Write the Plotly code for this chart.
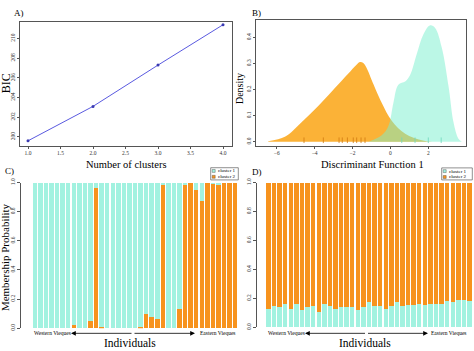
import plotly.graph_objects as go

W, H = 474, 351
def px(x): return x / W
def py(y): return 1 - y / H

FONT = "Liberation Serif"
CYAN = "#A2F2E0"
ORANGE = "#F7931E"
AXC = "#555555"

# ---------- Panel A data ----------
n_clusters = [1, 2, 3, 4]
bic = [199.6, 203.1, 207.3, 211.4]

# ---------- Panel B data (density curves) ----------
dens2_x = [-6.45, -5.57, -4.69, -3.81, -2.93, -2.22, -1.80, -1.60, -1.43, -1.20, -0.99, -0.46, 0.07, 0.78, 1.66, 2.2]
dens2_y = [0.002, 0.019, 0.075, 0.137, 0.206, 0.262, 0.295, 0.306, 0.302, 0.275, 0.237, 0.150, 0.081, 0.031, 0.006, 0.0]
dens1_x = [-1.16, -0.46, -0.10, 0.16, 0.42, 0.78, 1.04, 1.39, 1.74, 2.10, 2.36, 2.71, 3.07, 3.33, 3.59, 3.77]
dens1_y = [0.0, 0.025, 0.062, 0.150, 0.219, 0.231, 0.256, 0.337, 0.412, 0.447, 0.437, 0.362, 0.212, 0.075, 0.012, 0.0]
rug2 = [-4.56, -3.54, -2.71, -2.54, -2.27, -1.96, -1.78, -1.55, -1.34]
rug1 = [0.6, 1.3, 2.0, 2.68]

# ---------- Panel C data (membership, 37 individuals) ----------
c_cluster2 = [0, 0, 0, 0, 0, 0, 0, 0.02, 0, 0, 0.05, 0.96, 0.005, 0, 0, 0, 0, 0, 0,
              0.005, 0.10, 0.08, 0.065, 0.99, 0, 0, 0.13, 0.98, 1.0, 0.95, 0.87,
              1.0, 0.995, 0.99, 1.0, 1.0, 1.0]
c_cluster1 = [round(1 - v, 3) for v in c_cluster2]

# ---------- Panel D data ----------
d_cluster1 = [0.13, 0.15, 0.14, 0.16, 0.13, 0.16, 0.12, 0.14, 0.146, 0.11, 0.165, 0.15,
              0.13, 0.14, 0.14, 0.14, 0.12, 0.14, 0.175, 0.146, 0.15, 0.125, 0.15, 0.178,
              0.146, 0.154, 0.156, 0.16, 0.158, 0.165, 0.162, 0.165, 0.18, 0.175, 0.19,
              0.19, 0.185]
d_cluster2 = [round(1 - v, 3) for v in d_cluster1]

individuals = list(range(len(c_cluster2)))

fig = go.Figure()

# Panel A
fig.add_trace(go.Scatter(x=n_clusters, y=bic, mode="lines+markers",
                         line=dict(color="#5a5ae0", width=1),
                         marker=dict(size=3, color="#3a3ab0"),
                         xaxis="x", yaxis="y", showlegend=False))

# Panel B
fig.add_trace(go.Scatter(x=dens2_x, y=dens2_y, mode="lines", fill="tozeroy",
                         line=dict(color="rgba(0,0,0,0)", width=0, shape="spline"),
                         fillcolor="rgba(250,165,20,0.85)",
                         xaxis="x2", yaxis="y2", showlegend=False))
fig.add_trace(go.Scatter(x=dens1_x, y=dens1_y, mode="lines", fill="tozeroy",
                         line=dict(color="rgba(0,0,0,0)", width=0, shape="spline"),
                         fillcolor="rgba(120,240,205,0.5)",
                         xaxis="x2", yaxis="y2", showlegend=False))
fig.add_trace(go.Scatter(x=rug2, y=[0.006] * len(rug2), mode="markers",
                         marker=dict(symbol="line-ns-open", size=4, color="#d07a10", line=dict(width=0.8)),
                         xaxis="x2", yaxis="y2", showlegend=False))
fig.add_trace(go.Scatter(x=rug1, y=[0.006] * len(rug1), mode="markers",
                         marker=dict(symbol="line-ns-open", size=4, color="#6fd8bd", line=dict(width=0.8)),
                         xaxis="x2", yaxis="y2", showlegend=False))

# Panel C (orange at bottom)
fig.add_trace(go.Bar(x=individuals, y=c_cluster2, marker=dict(color=ORANGE, line=dict(width=0)),
                     name="cluster 2", xaxis="x3", yaxis="y3", showlegend=False))
fig.add_trace(go.Bar(x=individuals, y=c_cluster1, marker=dict(color=CYAN, line=dict(width=0)),
                     name="cluster 1", xaxis="x3", yaxis="y3", showlegend=False))

# Panel D (cyan at bottom)
fig.add_trace(go.Bar(x=individuals, y=d_cluster1, marker=dict(color=CYAN, line=dict(width=0)),
                     name="cluster 1", xaxis="x4", yaxis="y4", showlegend=False))
fig.add_trace(go.Bar(x=individuals, y=d_cluster2, marker=dict(color=ORANGE, line=dict(width=0)),
                     name="cluster 2", xaxis="x4", yaxis="y4", showlegend=False))

tickfont = dict(family=FONT, size=5.5, color="#333333")
box_axis = dict(showline=True, linecolor=AXC, linewidth=1, mirror=True, ticks="outside",
                ticklen=2, tickcolor=AXC, tickfont=tickfont, showgrid=False, zeroline=False)

fig.update_layout(
    width=W, height=H, margin=dict(l=0, r=0, t=0, b=0),
    paper_bgcolor="white", plot_bgcolor="white",
    barmode="stack", bargap=0.2,
    xaxis=dict(domain=[px(20), px(232)], range=[0.877, 4.138], anchor="y",
               tickvals=[1.0, 1.5, 2.0, 2.5, 3.0, 3.5, 4.0],
               ticktext=["1.0", "1.5", "2.0", "2.5", "3.0", "3.5", "4.0"], **box_axis),
    yaxis=dict(domain=[py(144), py(17)], range=[199.1, 211.72], anchor="x",
               tickvals=[200, 202, 204, 206, 208, 210], tickangle=-90, **box_axis),
    xaxis2=dict(domain=[px(255.7), px(466)], range=[-7.11, 3.99], anchor="y2",
                tickvals=[-6, -4, -2, 0, 2], **box_axis),
    yaxis2=dict(domain=[py(144), py(15)], range=[-0.015, 0.4686], anchor="x2",
                tickvals=[0, 0.1, 0.2, 0.3, 0.4], ticktext=["0.0", "0.1", "0.2", "0.3", "0.4"],
                tickangle=-90, **box_axis),
    xaxis3=dict(domain=[px(32), px(238)], range=[-0.5, 36.5], anchor="y3",
                showline=False, showticklabels=False, ticks="", showgrid=False, zeroline=False),
    yaxis3=dict(domain=[py(330.7), py(181.7)], range=[0, 1], anchor="free", position=px(20),
                showline=True, linecolor=AXC, linewidth=1, ticks="outside", ticklen=3,
                tickcolor=AXC, tickfont=tickfont, showgrid=False, zeroline=False,
                tickvals=[0, 0.2, 0.4, 0.6, 0.8, 1.0],
                ticktext=["0.0", "0.2", "0.4", "0.6", "0.8", "1.0"], tickangle=-90),
    xaxis4=dict(domain=[px(265.7), px(472.3)], range=[-0.5, 36.5], anchor="y4",
                showline=False, showticklabels=False, ticks="", showgrid=False, zeroline=False),
    yaxis4=dict(domain=[py(330), py(181.7)], range=[0, 1], anchor="free", position=px(255.7),
                showline=True, linecolor=AXC, linewidth=1, ticks="outside", ticklen=3,
                tickcolor=AXC, tickfont=tickfont, showgrid=False, zeroline=False,
                tickvals=[0, 0.2, 0.4, 0.6, 0.8, 1.0],
                ticktext=["0.0", "0.2", "0.4", "0.6", "0.8", "1.0"], tickangle=-90),
    font=dict(family=FONT, color="black"),
)

ann = []
def text(x, y, s, size, angle=0, xanchor="center", yanchor="middle"):
    ann.append(dict(x=px(x), y=py(y), xref="paper", yref="paper", text=s, showarrow=False,
                    font=dict(family=FONT, size=size, color="black"), textangle=angle,
                    xanchor=xanchor, yanchor=yanchor))

text(12, 8, "A)", 9, xanchor="left")
text(250, 8, "B)", 9, xanchor="left")
text(3, 170, "C)", 9, xanchor="left")
text(250, 171, "D)", 9, xanchor="left")
text(6, 80, "BIC", 12, angle=-90)
text(126, 163, "Number of clusters", 10.5)
text(239, 85, "Density", 10, angle=-90)
text(372, 163, "Discriminant Function 1", 10.5)
text(5, 258, "Membership Probability", 11, angle=-90)
text(130, 346, "Individuals", 11.5)
text(365, 346, "Individuals", 11.5)
text(32, 336, "Western Vieques", 5.5, xanchor="left")
text(237, 336, "Eastern Vieques", 5.5, xanchor="right")
text(266, 336, "Western Vieques", 5.5, xanchor="left")
text(468, 336, "Eastern Vieques", 5.5, xanchor="right")

# double-headed arrows
def arrow(x0, x1, y):
    mid = (x0 + x1) / 2
    for tip in (x0, x1):
        ann.append(dict(x=px(tip), y=py(y), xref="paper", yref="paper", ax=mid - tip, ay=0,
                        axref="pixel", ayref="pixel", text="", showarrow=True,
                        arrowhead=2, arrowsize=1.2, arrowwidth=0.8, arrowcolor="black"))
arrow(71, 195, 336)
arrow(305, 428, 336)

# manual legends
shapes = []
def legend(x0, y0, x1, y1):
    shapes.append(dict(type="rect", xref="paper", yref="paper", x0=px(x0), x1=px(x1),
                       y0=py(y1), y1=py(y0), line=dict(color="#444444", width=0.6),
                       fillcolor="white"))
    for i, (lab, col) in enumerate([("cluster 1", CYAN), ("cluster 2", ORANGE)]):
        yc = y0 + 3.3 + i * 6
        shapes.append(dict(type="rect", xref="paper", yref="paper", x0=px(x0 + 1.5), x1=px(x0 + 4.5),
                           y0=py(yc + 1.5), y1=py(yc - 1.5), line=dict(color="#444444", width=0.4),
                           fillcolor=col))
        text(x0 + 5.5, yc, lab, 5, xanchor="left")
legend(210.7, 166.5, 238.3, 179)
legend(441.7, 166.7, 472.3, 179)

fig.update_layout(annotations=ann, shapes=shapes)
fig.write_html("out.html")
